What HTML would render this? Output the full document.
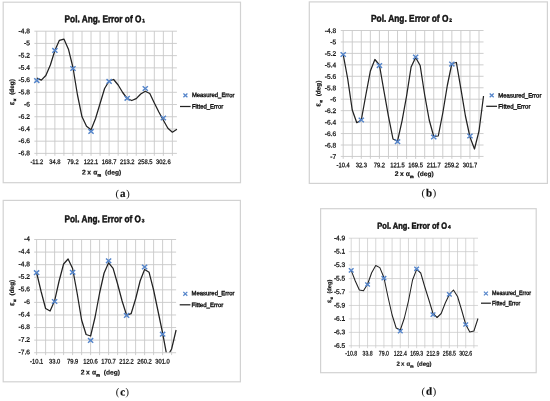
<!DOCTYPE html>
<html><head><meta charset="utf-8"><title>Pol. Ang. Error charts</title>
<style>
html,body{margin:0;padding:0;background:#fff;width:550px;height:401px;overflow:hidden}
svg{display:block;filter:blur(0.35px)}
text{font-family:"Liberation Sans",Arial,sans-serif;fill:#111111;stroke:#111111;stroke-width:0.36px;paint-order:stroke}
.t{font-size:6.6px;stroke-width:0.26px}
.lg{font-size:6.2px}
.ax{font-size:6.8px;font-weight:bold;stroke-width:0.15px}
.axs{font-size:4.1px;font-weight:bold}
.ti{font-size:9.8px;font-weight:bold;stroke-width:0.45px}
.tis{font-size:4.8px;font-weight:bold}
.pp{font-size:10.4px !important}
.pl{font-family:"Liberation Serif","Times New Roman",serif;font-size:11.5px;fill:#111;stroke-width:0.05px}
</style></head>
<body>
<svg width="550" height="401" viewBox="0 0 550 401">
<rect width="550" height="401" fill="#fff"/>
<rect x="3.2" y="2.2" width="237.3" height="180.5" fill="#fff" stroke="#d2d2d2" stroke-width="1.2"/>
<path d="M34.4 31.2H176.92M34.4 43.42H176.92M34.4 55.64H176.92M34.4 67.86H176.92M34.4 80.08H176.92M34.4 92.3H176.92M34.4 104.52H176.92M34.4 116.74H176.92M34.4 128.96H176.92M34.4 141.18H176.92M34.4 153.4H176.92M36.8 31.2V155.8M45.84 31.2V155.8M54.88 31.2V155.8M63.92 31.2V155.8M72.96 31.2V155.8M82 31.2V155.8M91.04 31.2V155.8M100.08 31.2V155.8M109.12 31.2V155.8M118.16 31.2V155.8M127.2 31.2V155.8M136.24 31.2V155.8M145.28 31.2V155.8M154.32 31.2V155.8M163.36 31.2V155.8M172.4 31.2V155.8" stroke="#c8c8c8" stroke-width="0.9" fill="none"/>
<clipPath id="clipa"><rect x="35.8" y="30.2" width="142.12" height="122.8"/></clipPath>
<polyline clip-path="url(#clipa)" points="36.8,78 41.32,80.1 45.84,75.5 50.36,65 54.88,50.5 59.4,40.3 63.92,39.1 68.44,49.2 72.96,67.5 77.48,95 82,116.8 86.52,126.3 91.04,129.8 95.56,118.5 100.08,103.5 104.6,88.5 109.12,81 113.64,79.5 118.16,85 122.68,92.5 127.2,98.5 131.72,100.5 136.24,98.6 140.76,94 145.28,91.3 149.8,93.5 154.32,103 158.84,112 163.36,120.3 167.88,128.3 172.4,132.2 176.92,129.2" fill="none" stroke="#222222" stroke-width="1.25" stroke-linejoin="round"/>
<path d="M34.2 78.3l5.2 4.6M39.4 78.3l-5.2 4.6M52.28 48.1l5.2 4.6M57.48 48.1l-5.2 4.6M70.36 66.2l5.2 4.6M75.56 66.2l-5.2 4.6M88.44 129.1l5.2 4.6M93.64 129.1l-5.2 4.6M106.52 79.1l5.2 4.6M111.72 79.1l-5.2 4.6M124.6 96l5.2 4.6M129.8 96l-5.2 4.6M142.68 86.2l5.2 4.6M147.88 86.2l-5.2 4.6M160.76 115.7l5.2 4.6M165.96 115.7l-5.2 4.6" stroke="#5585ca" stroke-width="1.45" fill="none"/>
<text x="29.9" y="33.15" class="t" text-anchor="end" transform="rotate(0.05 29.9 33.15)">-4.8</text>
<text x="29.9" y="45.37" class="t" text-anchor="end" transform="rotate(0.05 29.9 45.37)">-5</text>
<text x="29.9" y="57.59" class="t" text-anchor="end" transform="rotate(0.05 29.9 57.59)">-5.2</text>
<text x="29.9" y="69.81" class="t" text-anchor="end" transform="rotate(0.05 29.9 69.81)">-5.4</text>
<text x="29.9" y="82.03" class="t" text-anchor="end" transform="rotate(0.05 29.9 82.03)">-5.6</text>
<text x="29.9" y="94.25" class="t" text-anchor="end" transform="rotate(0.05 29.9 94.25)">-5.8</text>
<text x="29.9" y="106.47" class="t" text-anchor="end" transform="rotate(0.05 29.9 106.47)">-6</text>
<text x="29.9" y="118.69" class="t" text-anchor="end" transform="rotate(0.05 29.9 118.69)">-6.2</text>
<text x="29.9" y="130.91" class="t" text-anchor="end" transform="rotate(0.05 29.9 130.91)">-6.4</text>
<text x="29.9" y="143.13" class="t" text-anchor="end" transform="rotate(0.05 29.9 143.13)">-6.6</text>
<text x="29.9" y="155.35" class="t" text-anchor="end" transform="rotate(0.05 29.9 155.35)">-6.8</text>
<text class="t" text-anchor="middle" transform="translate(36.8 163.9) scale(0.88 1) rotate(0.05)">-11.2</text>
<text class="t" text-anchor="middle" transform="translate(54.88 163.9) scale(0.88 1) rotate(0.05)">34.8</text>
<text class="t" text-anchor="middle" transform="translate(72.96 163.9) scale(0.88 1) rotate(0.05)">79.2</text>
<text class="t" text-anchor="middle" transform="translate(91.04 163.9) scale(0.88 1) rotate(0.05)">122.1</text>
<text class="t" text-anchor="middle" transform="translate(109.12 163.9) scale(0.88 1) rotate(0.05)">168.7</text>
<text class="t" text-anchor="middle" transform="translate(127.2 163.9) scale(0.88 1) rotate(0.05)">213.2</text>
<text class="t" text-anchor="middle" transform="translate(145.28 163.9) scale(0.88 1) rotate(0.05)">258.5</text>
<text class="t" text-anchor="middle" transform="translate(163.36 163.9) scale(0.88 1) rotate(0.05)">302.6</text>
<text x="64.6" y="22.3" class="ti" style="font-size:9.8px" textLength="76.8" lengthAdjust="spacingAndGlyphs" transform="rotate(0.05 64.6 22.3)">Pol. Ang. Error of O</text>
<text x="142.3" y="22.2" class="tis" transform="rotate(0.05 142.3 22.2)">1</text>
<g transform="translate(82.4 174.4) scale(1.0)">
<text x="-0.3" y="0" class="ax" transform="rotate(0.05 -0.3 0)">2</text><text x="4.9" y="0" class="ax" transform="rotate(0.05 4.9 0)">x</text><text x="10.8" y="0" class="ax" transform="rotate(0.05 10.8 0)">α</text><text x="15.1" y="2.0" class="axs" transform="rotate(0.05 15.1 2.0)">m</text><text x="22.6" y="0" class="ax" style="font-size:6.4px" textLength="16.2" lengthAdjust="spacingAndGlyphs" transform="rotate(0.05 22.6 0)">(deg)</text></g>
<g transform="translate(14.3 105.3) rotate(-90) scale(1.0)">
<text x="0" y="0" class="ax" style="font-size:7.6px" transform="rotate(0.05 0 0)">ε</text><text x="4.0" y="1.6" class="axs" transform="rotate(0.05 4.0 1.6)">α</text><text x="10.5" y="-0.2" class="ax" style="font-size:6.4px" textLength="15.6" lengthAdjust="spacingAndGlyphs" transform="rotate(0.05 10.5 -0.2)">(deg)</text></g>
<path d="M183.4 93.5l4 3.8M187.4 93.5l-4 3.8" stroke="#5585ca" stroke-width="1.25" fill="none"/>
<text x="191.9" y="97.1" class="lg" textLength="42.6" lengthAdjust="spacingAndGlyphs" transform="rotate(0.05 191.9 97.1)">Measured_Error</text>
<path d="M180 106.5H190.6" stroke="#222222" stroke-width="1.25"/>
<text x="191.9" y="108.6" class="lg" textLength="31.4" lengthAdjust="spacingAndGlyphs" transform="rotate(0.05 191.9 108.6)">Fitted_Error</text>
<text x="115.4" y="196.9" class="pl pp" transform="rotate(0.05 115.4 196.9)">(</text>
<text x="119.9" y="197" class="pl" font-weight="bold" style="font-size:11px;stroke-width:0.2px" transform="rotate(0.05 119.9 197)">a</text>
<text x="126.15" y="196.9" class="pl pp" transform="rotate(0.05 126.15 196.9)">)</text>
<rect x="309.3" y="1.9" width="238.1" height="181.5" fill="#fff" stroke="#d2d2d2" stroke-width="1.2"/>
<path d="M340.8 30.5H483.54M340.8 41.95H483.54M340.8 53.4H483.54M340.8 64.85H483.54M340.8 76.3H483.54M340.8 87.75H483.54M340.8 99.2H483.54M340.8 110.65H483.54M340.8 122.1H483.54M340.8 133.55H483.54M340.8 145H483.54M340.8 156.45H483.54M343.2 30.5V158.85M352.25 30.5V158.85M361.31 30.5V158.85M370.36 30.5V158.85M379.42 30.5V158.85M388.47 30.5V158.85M397.52 30.5V158.85M406.58 30.5V158.85M415.63 30.5V158.85M424.69 30.5V158.85M433.74 30.5V158.85M442.79 30.5V158.85M451.85 30.5V158.85M460.9 30.5V158.85M469.96 30.5V158.85M479.01 30.5V158.85" stroke="#c8c8c8" stroke-width="0.9" fill="none"/>
<clipPath id="clipb"><rect x="342.2" y="29.5" width="142.34" height="126.55"/></clipPath>
<polyline clip-path="url(#clipb)" points="343.2,54.5 347.73,79 352.25,110 356.78,122.7 361.31,120 365.83,95 370.36,71 374.89,59.5 379.42,65 383.94,91 388.47,116.4 393,139 397.52,141.2 402.05,120.8 406.58,96 411.11,67 415.63,57.5 420.16,65.5 424.69,95 429.21,120 433.74,136.5 438.27,136 442.79,113 447.32,85.5 451.85,63.5 456.38,62.5 460.9,88.8 465.43,116 469.96,137 474.48,149 479.01,131 483.54,96" fill="none" stroke="#222222" stroke-width="1.25" stroke-linejoin="round"/>
<path d="M340.6 52.2l5.2 4.6M345.8 52.2l-5.2 4.6M358.71 117.7l5.2 4.6M363.91 117.7l-5.2 4.6M376.82 63.3l5.2 4.6M382.02 63.3l-5.2 4.6M394.92 139.4l5.2 4.6M400.12 139.4l-5.2 4.6M413.03 54.7l5.2 4.6M418.23 54.7l-5.2 4.6M431.14 134.7l5.2 4.6M436.34 134.7l-5.2 4.6M449.25 61.8l5.2 4.6M454.45 61.8l-5.2 4.6M467.36 133.7l5.2 4.6M472.56 133.7l-5.2 4.6" stroke="#5585ca" stroke-width="1.45" fill="none"/>
<text x="336.2" y="32.9" class="t" text-anchor="end" transform="rotate(0.05 336.2 32.9)">-4.8</text>
<text x="336.2" y="44.35" class="t" text-anchor="end" transform="rotate(0.05 336.2 44.35)">-5</text>
<text x="336.2" y="55.8" class="t" text-anchor="end" transform="rotate(0.05 336.2 55.8)">-5.2</text>
<text x="336.2" y="67.25" class="t" text-anchor="end" transform="rotate(0.05 336.2 67.25)">-5.4</text>
<text x="336.2" y="78.7" class="t" text-anchor="end" transform="rotate(0.05 336.2 78.7)">-5.6</text>
<text x="336.2" y="90.15" class="t" text-anchor="end" transform="rotate(0.05 336.2 90.15)">-5.8</text>
<text x="336.2" y="101.6" class="t" text-anchor="end" transform="rotate(0.05 336.2 101.6)">-6</text>
<text x="336.2" y="113.05" class="t" text-anchor="end" transform="rotate(0.05 336.2 113.05)">-6.2</text>
<text x="336.2" y="124.5" class="t" text-anchor="end" transform="rotate(0.05 336.2 124.5)">-6.4</text>
<text x="336.2" y="135.95" class="t" text-anchor="end" transform="rotate(0.05 336.2 135.95)">-6.6</text>
<text x="336.2" y="147.4" class="t" text-anchor="end" transform="rotate(0.05 336.2 147.4)">-6.8</text>
<text x="336.2" y="158.85" class="t" text-anchor="end" transform="rotate(0.05 336.2 158.85)">-7</text>
<text class="t" text-anchor="middle" transform="translate(343.2 167.2) scale(0.88 1) rotate(0.05)">-10.4</text>
<text class="t" text-anchor="middle" transform="translate(361.31 167.2) scale(0.88 1) rotate(0.05)">32.3</text>
<text class="t" text-anchor="middle" transform="translate(379.42 167.2) scale(0.88 1) rotate(0.05)">79.2</text>
<text class="t" text-anchor="middle" transform="translate(397.52 167.2) scale(0.88 1) rotate(0.05)">121.5</text>
<text class="t" text-anchor="middle" transform="translate(415.63 167.2) scale(0.88 1) rotate(0.05)">169.5</text>
<text class="t" text-anchor="middle" transform="translate(433.74 167.2) scale(0.88 1) rotate(0.05)">211.7</text>
<text class="t" text-anchor="middle" transform="translate(451.85 167.2) scale(0.88 1) rotate(0.05)">259.2</text>
<text class="t" text-anchor="middle" transform="translate(469.96 167.2) scale(0.88 1) rotate(0.05)">301.7</text>
<text x="371" y="21.8" class="ti" style="font-size:9.8px" textLength="77.4" lengthAdjust="spacingAndGlyphs" transform="rotate(0.05 371 21.8)">Pol. Ang. Error of O</text>
<text x="449.3" y="21.7" class="tis" transform="rotate(0.05 449.3 21.7)">2</text>
<g transform="translate(395 176) scale(1.0)">
<text x="-0.3" y="0" class="ax" transform="rotate(0.05 -0.3 0)">2</text><text x="4.9" y="0" class="ax" transform="rotate(0.05 4.9 0)">x</text><text x="10.8" y="0" class="ax" transform="rotate(0.05 10.8 0)">α</text><text x="15.1" y="2.0" class="axs" transform="rotate(0.05 15.1 2.0)">m</text><text x="22.6" y="0" class="ax" style="font-size:6.4px" textLength="16.2" lengthAdjust="spacingAndGlyphs" transform="rotate(0.05 22.6 0)">(deg)</text></g>
<g transform="translate(320.6 106.8) rotate(-90) scale(1.0)">
<text x="0" y="0" class="ax" style="font-size:7.6px" transform="rotate(0.05 0 0)">ε</text><text x="4.0" y="1.6" class="axs" transform="rotate(0.05 4.0 1.6)">α</text><text x="10.5" y="-0.2" class="ax" style="font-size:6.4px" textLength="15.6" lengthAdjust="spacingAndGlyphs" transform="rotate(0.05 10.5 -0.2)">(deg)</text></g>
<path d="M489.7 93.5l4 3.8M493.7 93.5l-4 3.8" stroke="#5585ca" stroke-width="1.25" fill="none"/>
<text x="498.3" y="97.4" class="lg" textLength="43.1" lengthAdjust="spacingAndGlyphs" transform="rotate(0.05 498.3 97.4)">Measured_Error</text>
<path d="M486.2 106.3H497" stroke="#222222" stroke-width="1.25"/>
<text x="498.3" y="108.5" class="lg" textLength="32.2" lengthAdjust="spacingAndGlyphs" transform="rotate(0.05 498.3 108.5)">Fitted_Error</text>
<text x="421.4" y="196.3" class="pl pp" transform="rotate(0.05 421.4 196.3)">(</text>
<text x="425.9" y="196.4" class="pl" font-weight="bold" style="font-size:11px;stroke-width:0.2px" transform="rotate(0.05 425.9 196.4)">b</text>
<text x="432.79" y="196.3" class="pl pp" transform="rotate(0.05 432.79 196.3)">)</text>
<rect x="3.2" y="200.4" width="237.2" height="181.4" fill="#fff" stroke="#d2d2d2" stroke-width="1.2"/>
<path d="M34.2 239.5H176.1M34.2 252.08H176.1M34.2 264.66H176.1M34.2 277.24H176.1M34.2 289.82H176.1M34.2 302.4H176.1M34.2 314.98H176.1M34.2 327.56H176.1M34.2 340.14H176.1M34.2 352.72H176.1M36.6 239.5V355.12M45.6 239.5V355.12M54.6 239.5V355.12M63.6 239.5V355.12M72.6 239.5V355.12M81.6 239.5V355.12M90.6 239.5V355.12M99.6 239.5V355.12M108.6 239.5V355.12M117.6 239.5V355.12M126.6 239.5V355.12M135.6 239.5V355.12M144.6 239.5V355.12M153.6 239.5V355.12M162.6 239.5V355.12M171.6 239.5V355.12" stroke="#c8c8c8" stroke-width="0.9" fill="none"/>
<clipPath id="clipc"><rect x="35.6" y="238.5" width="141.5" height="113.82"/></clipPath>
<polyline clip-path="url(#clipc)" points="36.6,272.7 41.1,291.5 45.6,308.5 50.1,311 54.6,300.8 59.1,281 63.6,264 68.1,259 72.6,268.5 77.1,293 81.6,320 86.1,334.5 90.6,336 95.1,317 99.6,293 104.1,273 108.6,262.8 113.1,268.4 117.6,284 122.1,301 126.6,315.2 131.1,313.7 135.6,299 140.1,281 144.6,269.5 149.1,272.3 153.6,290 158.1,311.5 162.6,333 167.1,357 171.6,349 176.1,330" fill="none" stroke="#222222" stroke-width="1.25" stroke-linejoin="round"/>
<path d="M34 270.4l5.2 4.6M39.2 270.4l-5.2 4.6M52 299.2l5.2 4.6M57.2 299.2l-5.2 4.6M70 270l5.2 4.6M75.2 270l-5.2 4.6M88 338.1l5.2 4.6M93.2 338.1l-5.2 4.6M106 258.5l5.2 4.6M111.2 258.5l-5.2 4.6M124 313.1l5.2 4.6M129.2 313.1l-5.2 4.6M142 264.7l5.2 4.6M147.2 264.7l-5.2 4.6M160 331.9l5.2 4.6M165.2 331.9l-5.2 4.6" stroke="#5585ca" stroke-width="1.45" fill="none"/>
<text x="29.9" y="241.05" class="t" text-anchor="end" transform="rotate(0.05 29.9 241.05)">-4</text>
<text x="29.9" y="253.63" class="t" text-anchor="end" transform="rotate(0.05 29.9 253.63)">-4.4</text>
<text x="29.9" y="266.21" class="t" text-anchor="end" transform="rotate(0.05 29.9 266.21)">-4.8</text>
<text x="29.9" y="278.79" class="t" text-anchor="end" transform="rotate(0.05 29.9 278.79)">-5.2</text>
<text x="29.9" y="291.37" class="t" text-anchor="end" transform="rotate(0.05 29.9 291.37)">-5.6</text>
<text x="29.9" y="303.95" class="t" text-anchor="end" transform="rotate(0.05 29.9 303.95)">-6</text>
<text x="29.9" y="316.53" class="t" text-anchor="end" transform="rotate(0.05 29.9 316.53)">-6.4</text>
<text x="29.9" y="329.11" class="t" text-anchor="end" transform="rotate(0.05 29.9 329.11)">-6.8</text>
<text x="29.9" y="341.69" class="t" text-anchor="end" transform="rotate(0.05 29.9 341.69)">-7.2</text>
<text x="29.9" y="354.27" class="t" text-anchor="end" transform="rotate(0.05 29.9 354.27)">-7.6</text>
<text class="t" text-anchor="middle" transform="translate(36.6 363.5) scale(0.88 1) rotate(0.05)">-10.1</text>
<text class="t" text-anchor="middle" transform="translate(54.6 363.5) scale(0.88 1) rotate(0.05)">33.0</text>
<text class="t" text-anchor="middle" transform="translate(72.6 363.5) scale(0.88 1) rotate(0.05)">79.9</text>
<text class="t" text-anchor="middle" transform="translate(90.6 363.5) scale(0.88 1) rotate(0.05)">120.6</text>
<text class="t" text-anchor="middle" transform="translate(108.6 363.5) scale(0.88 1) rotate(0.05)">170.7</text>
<text class="t" text-anchor="middle" transform="translate(126.6 363.5) scale(0.88 1) rotate(0.05)">212.2</text>
<text class="t" text-anchor="middle" transform="translate(144.6 363.5) scale(0.88 1) rotate(0.05)">260.2</text>
<text class="t" text-anchor="middle" transform="translate(162.6 363.5) scale(0.88 1) rotate(0.05)">301.0</text>
<text x="64.6" y="222.3" class="ti" style="font-size:9.8px" textLength="76.2" lengthAdjust="spacingAndGlyphs" transform="rotate(0.05 64.6 222.3)">Pol. Ang. Error of O</text>
<text x="141.7" y="222.2" class="tis" transform="rotate(0.05 141.7 222.2)">3</text>
<g transform="translate(81.1 374.4) scale(1.0)">
<text x="-0.3" y="0" class="ax" transform="rotate(0.05 -0.3 0)">2</text><text x="4.9" y="0" class="ax" transform="rotate(0.05 4.9 0)">x</text><text x="10.8" y="0" class="ax" transform="rotate(0.05 10.8 0)">α</text><text x="15.1" y="2.0" class="axs" transform="rotate(0.05 15.1 2.0)">m</text><text x="22.6" y="0" class="ax" style="font-size:6.4px" textLength="16.2" lengthAdjust="spacingAndGlyphs" transform="rotate(0.05 22.6 0)">(deg)</text></g>
<g transform="translate(14.3 305.9) rotate(-90) scale(1.0)">
<text x="0" y="0" class="ax" style="font-size:7.6px" transform="rotate(0.05 0 0)">ε</text><text x="4.0" y="1.6" class="axs" transform="rotate(0.05 4.0 1.6)">α</text><text x="10.5" y="-0.2" class="ax" style="font-size:6.4px" textLength="15.6" lengthAdjust="spacingAndGlyphs" transform="rotate(0.05 10.5 -0.2)">(deg)</text></g>
<path d="M183.3 291.9l4 3.8M187.3 291.9l-4 3.8" stroke="#5585ca" stroke-width="1.25" fill="none"/>
<text x="191.5" y="295.3" class="lg" textLength="43" lengthAdjust="spacingAndGlyphs" transform="rotate(0.05 191.5 295.3)">Measured_Error</text>
<path d="M179.7 304.8H190.4" stroke="#222222" stroke-width="1.25"/>
<text x="191.5" y="307" class="lg" textLength="31.8" lengthAdjust="spacingAndGlyphs" transform="rotate(0.05 191.5 307)">Fitted_Error</text>
<text x="115.7" y="395.3" class="pl pp" transform="rotate(0.05 115.7 395.3)">(</text>
<text x="120.2" y="395.4" class="pl" font-weight="bold" style="font-size:11px;stroke-width:0.2px" transform="rotate(0.05 120.2 395.4)">c</text>
<text x="125.42" y="395.3" class="pl pp" transform="rotate(0.05 125.42 395.3)">)</text>
<rect x="320.6" y="208.7" width="215.6" height="164" fill="#fff" stroke="#d2d2d2" stroke-width="1.2"/>
<path d="M348.8 238.2H477.99M348.8 251.65H477.99M348.8 265.1H477.99M348.8 278.55H477.99M348.8 292H477.99M348.8 305.45H477.99M348.8 318.9H477.99M348.8 332.35H477.99M348.8 345.8H477.99M351.2 238.2V348.2M359.38 238.2V348.2M367.56 238.2V348.2M375.74 238.2V348.2M383.92 238.2V348.2M392.1 238.2V348.2M400.28 238.2V348.2M408.46 238.2V348.2M416.64 238.2V348.2M424.82 238.2V348.2M433 238.2V348.2M441.18 238.2V348.2M449.36 238.2V348.2M457.54 238.2V348.2M465.72 238.2V348.2M473.9 238.2V348.2" stroke="#c8c8c8" stroke-width="0.73" fill="none"/>
<clipPath id="clipd"><rect x="350.2" y="237.2" width="128.79" height="108.2"/></clipPath>
<polyline clip-path="url(#clipd)" points="351.2,270.4 355.29,281 359.38,290 363.47,290.7 367.56,284.2 371.65,272.8 375.74,265.5 379.83,267.6 383.92,277.5 388.01,297 392.1,315 396.19,328 400.28,330 404.37,318 408.46,301 412.55,280 416.64,269.4 420.73,273 424.82,287 428.91,300 433,313.5 437.09,317.5 441.18,313.5 445.27,303 449.36,294.5 453.45,290 457.54,296.5 461.63,310 465.72,324.5 469.81,332 473.9,331 477.99,318.5" fill="none" stroke="#222222" stroke-width="1.06" stroke-linejoin="round"/>
<path d="M348.86 268.33l4.68 4.14M353.54 268.33l-4.68 4.14M365.22 282.43l4.68 4.14M369.9 282.43l-4.68 4.14M381.58 276.13l4.68 4.14M386.26 276.13l-4.68 4.14M397.94 329.03l4.68 4.14M402.62 329.03l-4.68 4.14M414.3 266.73l4.68 4.14M418.98 266.73l-4.68 4.14M430.66 312.53l4.68 4.14M435.34 312.53l-4.68 4.14M447.02 292.33l4.68 4.14M451.7 292.33l-4.68 4.14M463.38 322.43l4.68 4.14M468.06 322.43l-4.68 4.14" stroke="#5585ca" stroke-width="1.45" fill="none"/>
<text x="345.3" y="240.15" class="t" text-anchor="end" transform="rotate(0.05 345.3 240.15)">-4.9</text>
<text x="345.3" y="253.6" class="t" text-anchor="end" transform="rotate(0.05 345.3 253.6)">-5.1</text>
<text x="345.3" y="267.05" class="t" text-anchor="end" transform="rotate(0.05 345.3 267.05)">-5.3</text>
<text x="345.3" y="280.5" class="t" text-anchor="end" transform="rotate(0.05 345.3 280.5)">-5.5</text>
<text x="345.3" y="293.95" class="t" text-anchor="end" transform="rotate(0.05 345.3 293.95)">-5.7</text>
<text x="345.3" y="307.4" class="t" text-anchor="end" transform="rotate(0.05 345.3 307.4)">-5.9</text>
<text x="345.3" y="320.85" class="t" text-anchor="end" transform="rotate(0.05 345.3 320.85)">-6.1</text>
<text x="345.3" y="334.3" class="t" text-anchor="end" transform="rotate(0.05 345.3 334.3)">-6.3</text>
<text x="345.3" y="347.75" class="t" text-anchor="end" transform="rotate(0.05 345.3 347.75)">-6.5</text>
<text class="t" text-anchor="middle" transform="translate(351.2 355.6) scale(0.79 1) rotate(0.05)">-10.8</text>
<text class="t" text-anchor="middle" transform="translate(367.56 355.6) scale(0.79 1) rotate(0.05)">33.8</text>
<text class="t" text-anchor="middle" transform="translate(383.92 355.6) scale(0.79 1) rotate(0.05)">79.0</text>
<text class="t" text-anchor="middle" transform="translate(400.28 355.6) scale(0.79 1) rotate(0.05)">122.4</text>
<text class="t" text-anchor="middle" transform="translate(416.64 355.6) scale(0.79 1) rotate(0.05)">169.3</text>
<text class="t" text-anchor="middle" transform="translate(433 355.6) scale(0.79 1) rotate(0.05)">212.9</text>
<text class="t" text-anchor="middle" transform="translate(449.36 355.6) scale(0.79 1) rotate(0.05)">258.5</text>
<text class="t" text-anchor="middle" transform="translate(465.72 355.6) scale(0.79 1) rotate(0.05)">302.6</text>
<text x="377.3" y="228.7" class="ti" style="font-size:8.82px" textLength="69.7" lengthAdjust="spacingAndGlyphs" transform="rotate(0.05 377.3 228.7)">Pol. Ang. Error of O</text>
<text x="447.9" y="228.6" class="tis" transform="rotate(0.05 447.9 228.6)">4</text>
<g transform="translate(396.7 365.8) scale(0.9)">
<text x="-0.3" y="0" class="ax" transform="rotate(0.05 -0.3 0)">2</text><text x="4.9" y="0" class="ax" transform="rotate(0.05 4.9 0)">x</text><text x="10.8" y="0" class="ax" transform="rotate(0.05 10.8 0)">α</text><text x="15.1" y="2.0" class="axs" transform="rotate(0.05 15.1 2.0)">m</text><text x="22.6" y="0" class="ax" style="font-size:6.4px" textLength="16.2" lengthAdjust="spacingAndGlyphs" transform="rotate(0.05 22.6 0)">(deg)</text></g>
<g transform="translate(331.3 303) rotate(-90) scale(0.9)">
<text x="0" y="0" class="ax" style="font-size:7.6px" transform="rotate(0.05 0 0)">ε</text><text x="4.0" y="1.6" class="axs" transform="rotate(0.05 4.0 1.6)">α</text><text x="10.5" y="-0.2" class="ax" style="font-size:6.4px" textLength="15.6" lengthAdjust="spacingAndGlyphs" transform="rotate(0.05 10.5 -0.2)">(deg)</text></g>
<path d="M483.9 291.6l4 3.8M487.9 291.6l-4 3.8" stroke="#5585ca" stroke-width="1.25" fill="none"/>
<text x="492" y="294.9" class="lg" textLength="39" lengthAdjust="spacingAndGlyphs" transform="rotate(0.05 492 294.9)">Measured_Error</text>
<path d="M481 303.2H490.9" stroke="#222222" stroke-width="1.25"/>
<text x="492" y="305.3" class="lg" textLength="28.3" lengthAdjust="spacingAndGlyphs" transform="rotate(0.05 492 305.3)">Fitted_Error</text>
<text x="421.4" y="394.7" class="pl pp" transform="rotate(0.05 421.4 394.7)">(</text>
<text x="425.9" y="394.8" class="pl" font-weight="bold" style="font-size:11px;stroke-width:0.2px" transform="rotate(0.05 425.9 394.8)">d</text>
<text x="432.79" y="394.7" class="pl pp" transform="rotate(0.05 432.79 394.7)">)</text>
</svg>
</body></html>
